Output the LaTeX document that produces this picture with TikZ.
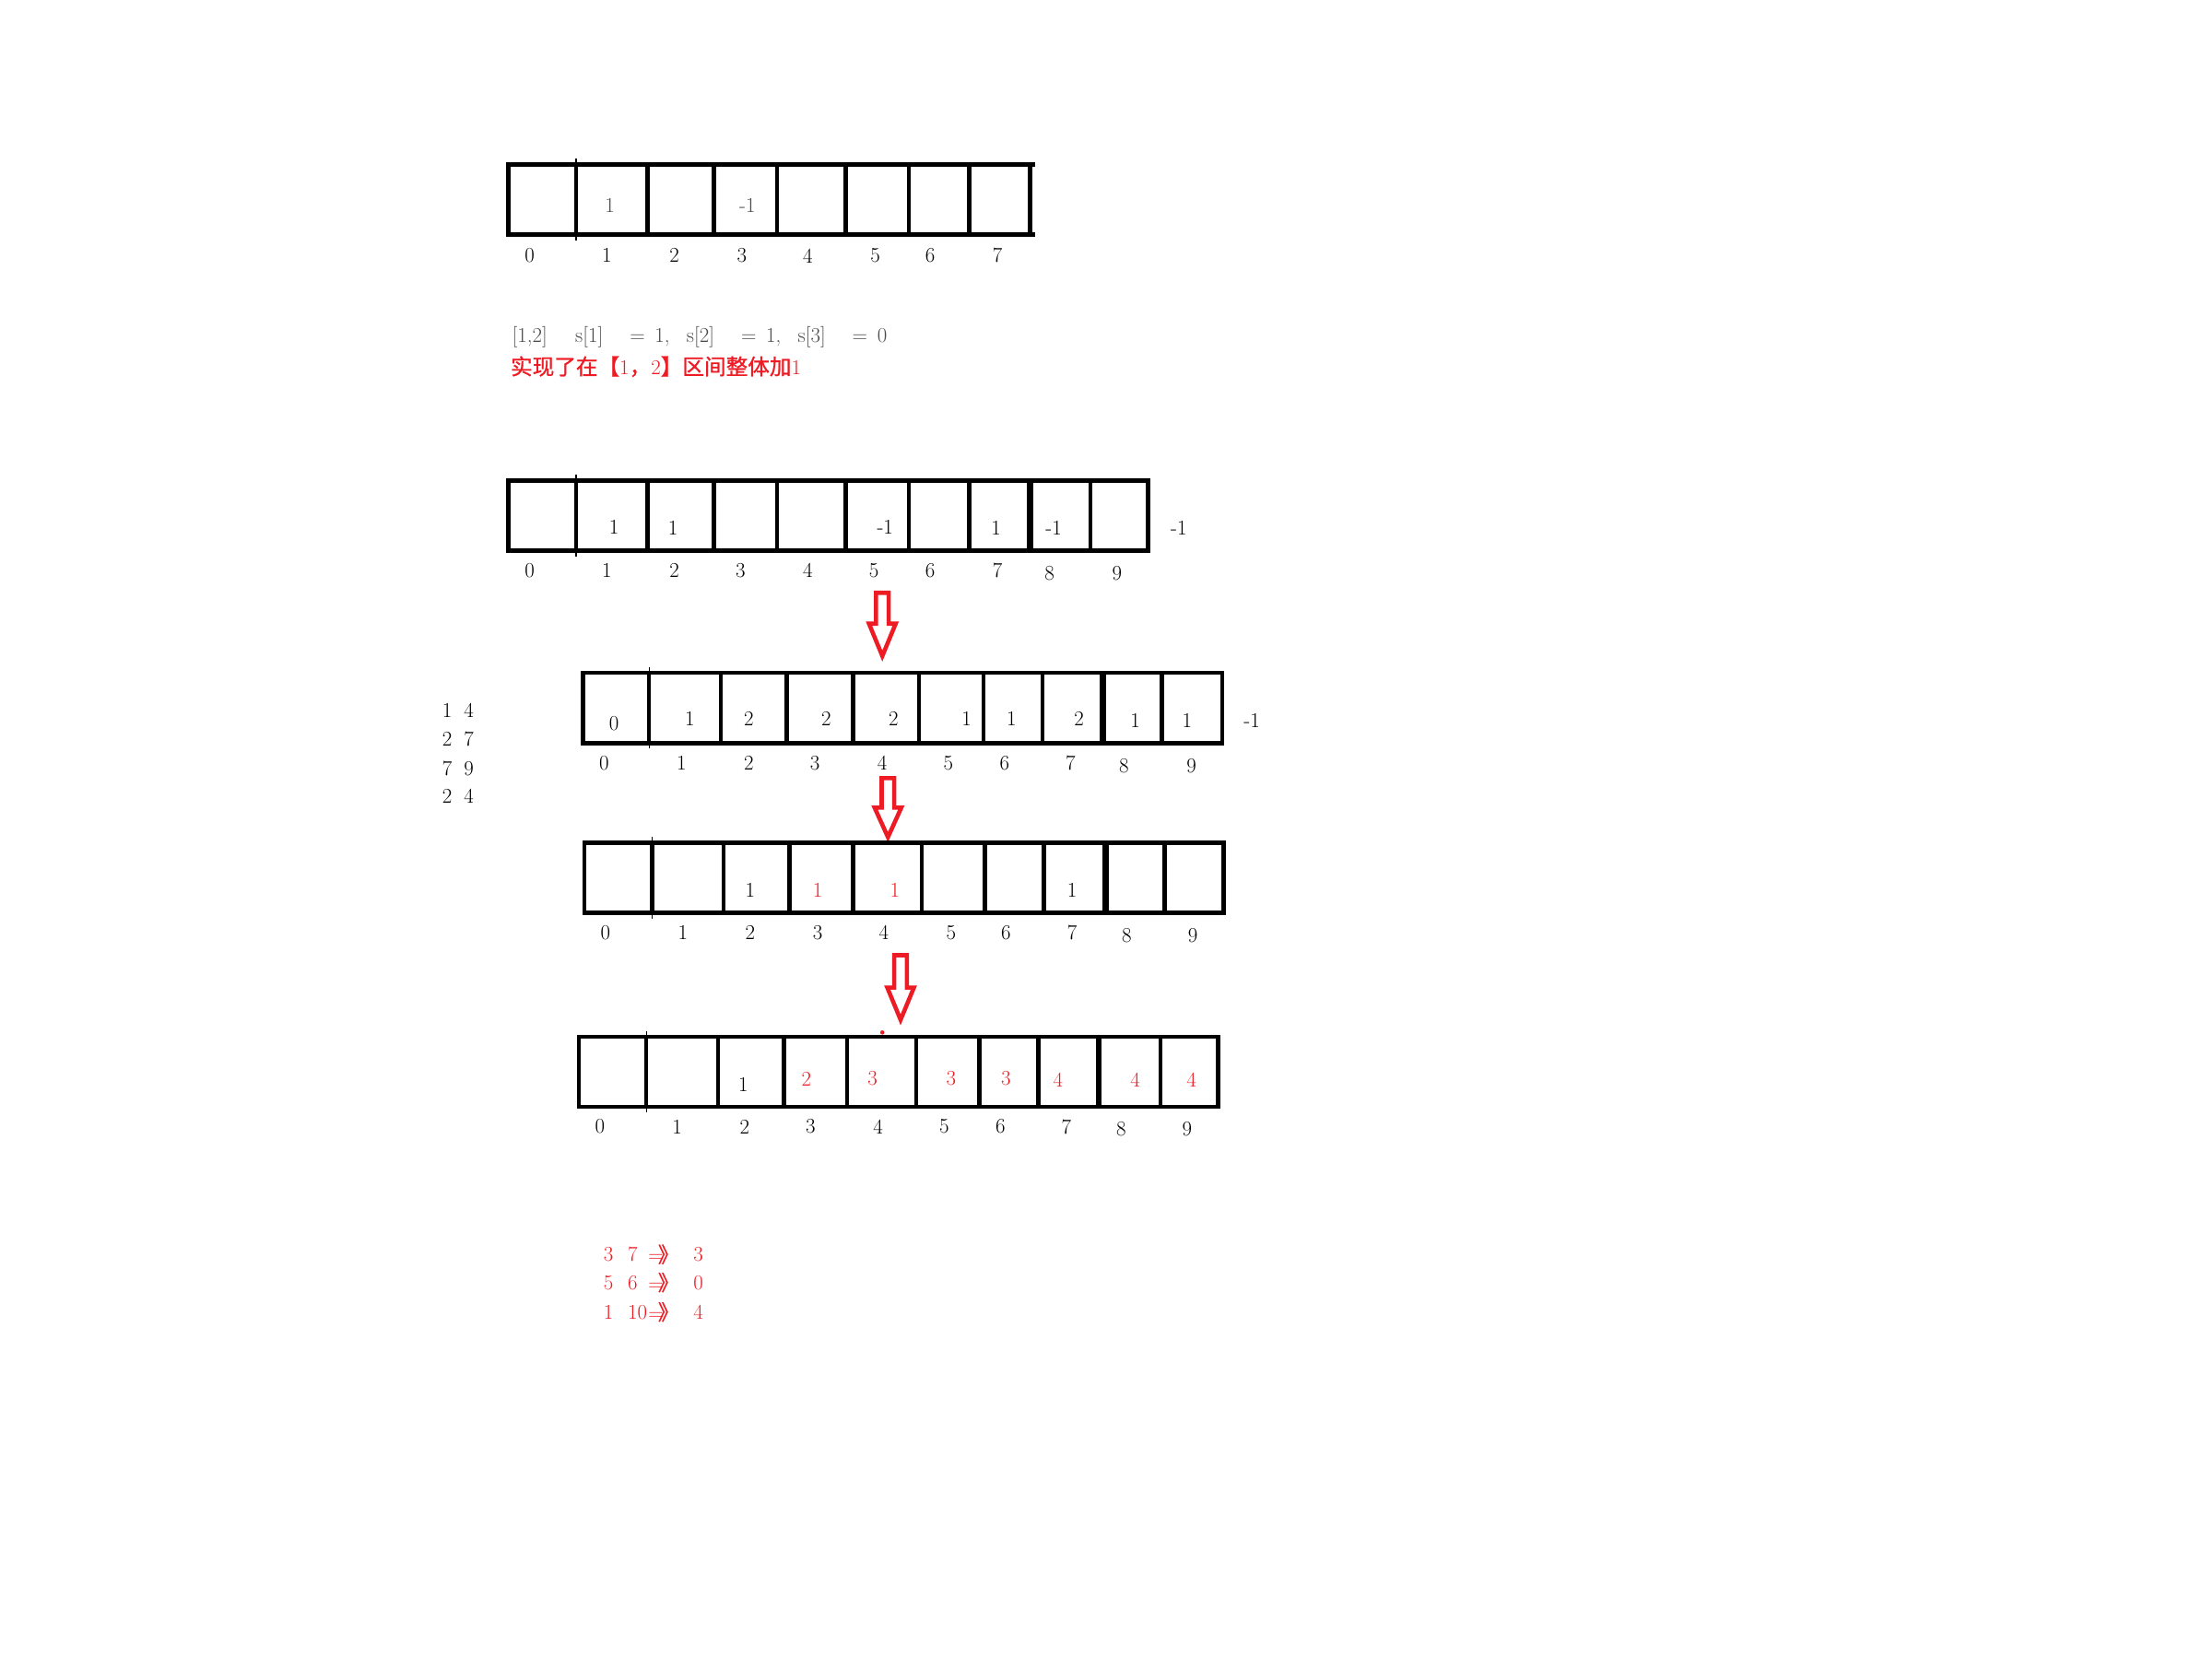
\documentclass[tikz,border=0pt]{standalone}
\usepackage{fontspec}
\usepackage{tikz}
\newfontfamily\cjk[FakeBold=1]{Noto Sans CJK SC}
\newcommand\cn[1]{{\cjk\fontsize{15.5}{18}\selectfont #1}}
\definecolor{paintred}{RGB}{237,28,36}
\definecolor{txtgray}{RGB}{75,75,75}

\begin{document}
\begin{tikzpicture}[x = 1pt, y = -1pt, line width = 3pt,
    every node/.style = {inner sep = 0pt, font = \fontsize{15}{18}\selectfont},
    sepline/.style = {line width = .8pt},
    thickline/.style = {line width = 4.5pt},
    redarrow/.style = {draw = paintred, line width = 3pt, line join = miter},
    hl/.style = {text = paintred}]
  \useasboundingbox (0,0) rectangle (1568,1196);

  % first array
  \draw (737,117) -- (362,117) -- (362,167) -- (737,167);
  \foreach \x in {410,461,508,553,602,647,690,733}
    \draw (\x,117) -- (\x,167);
  \draw[sepline] (410,113) -- (410,171);
  \node[text = txtgray] (a1) at (434,146) {1};
  \node[text = txtgray] (a3) at (532,146) {-1};
  \foreach \x/\t in {377/0,432/1,480/2,528/3,575/4,623/5,662/6,710/7}
    \node (la\t) at (\x,182) {\t};

  \node[anchor = west, text = txtgray] (sums) at (363,240)
    {[1,2]\hspace{20pt}s[1]\hspace{19pt}=\hspace{7pt}1,\hspace{12pt}s[2]\hspace{19pt}=\hspace{7pt}1,\hspace{12pt}s[3]\hspace{19pt}=\hspace{7pt}0};
  \node[anchor = west, hl] (note) at (362,261)
    {\cn{实现了在【}1\cn{，}2\cn{】区间整体加}1};

  % second array
  \draw (362,342) rectangle (817,392);
  \foreach \x in {410,461,508,553,602,647,690,776}
    \draw (\x,342) -- (\x,392);
  \draw[thickline] (733,342) -- (733,392);
  \draw[sepline] (410,338) -- (410,396);
  \node (b1) at (437,375) {1};
  \node (b2) at (479,376) {1};
  \node (b5) at (630,375) {-1};
  \node (b7) at (709,376) {1};
  \node (b8) at (750,376) {-1};
  \node (b10) at (839,376) {-1};
  \foreach \x/\y/\t in {377/406/0,432/406/1,480/406/2,527/406/3,575/406/4,
                        622/406/5,662/406/6,710/406/7,747/408/8,795/408/9}
    \node (lb\t) at (\x,\y) {\t};

  % arrows
  \foreach \x/\t/\n/\b in {628/422/444/467, 632/554/575/596, 641/680/703/726}
    \draw[redarrow] ({\x-4.5},\t) -- ({\x+4.5},\t) -- ({\x+4.5},\n) -- ({\x+9.5},\n)
      -- (\x,\b) -- ({\x-9.5},\n) -- ({\x-4.5},\n) -- cycle;
  \fill[paintred] (628,735) circle (1.5);

  % third array
  \draw (415,479) rectangle (870,529);
  \foreach \x in {462,513,560,607,654,700,742,827}
    \draw (\x,479) -- (\x,529);
  \draw[thickline] (785,479) -- (785,529);
  \draw[sepline] (462,475) -- (462,533);
  \foreach \x/\y/\t [count = \i] in {437/515/0,491/512/1,533/512/2,588/512/2,636/512/2,
                                     688/512/1,720/512/1,768/512/2,808/513/1,845/513/1}
    \node (c\i) at (\x,\y) {\t};
  \node (c11) at (891,513) {-1};
  \foreach \x/\y/\t in {430/543/0,485/543/1,533/543/2,580/543/3,628/543/4,
                        675/543/5,715/543/6,762/543/7,800/545/8,848/545/9}
    \node (lc\t) at (\x,\y) {\t};

  \foreach \s/\y [count = \i] in {1\hspace{8.5pt}4/506, 2\hspace{8.5pt}7/526,
                                  7\hspace{8.5pt}9/547, 2\hspace{8.5pt}4/567}
    \node (q\i) at (326,\y) {\s};

  % fourth array
  \draw (416,600) rectangle (871,650);
  \foreach \x in {464,515,562,607,656,701,743,829}
    \draw (\x,600) -- (\x,650);
  \draw[thickline] (787,600) -- (787,650);
  \draw[sepline] (464,596) -- (464,654);
  \node (d2) at (534,634) {1};
  \node[hl] (d3) at (582,634) {1};
  \node[hl] (d4) at (637,634) {1};
  \node (d7) at (763,634) {1};
  \foreach \x/\y/\t in {431/664/0,486/664/1,534/664/2,582/664/3,629/664/4,
                        677/664/5,716/664/6,763/664/7,802/666/8,849/666/9}
    \node (ld\t) at (\x,\y) {\t};

  % fifth array
  \draw (412,738) rectangle (867,788);
  \foreach \x in {460,511,558,603,652,697,739,826}
    \draw (\x,738) -- (\x,788);
  \draw[thickline] (782,738) -- (782,788);
  \draw[sepline] (460,734) -- (460,792);
  \node (e2) at (529,772) {1};
  \foreach \x/\y/\t [count = \i] in {574/768/2,621/768/3,677/768/3,716/768/3,
                                     753/769/4,808/769/4,848/769/4}
    \node[hl] (e\i) at (\x,\y) {\t};
  \foreach \x/\y/\t in {427/802/0,482/802/1,530/802/2,577/802/3,625/802/4,
                        672/802/5,712/802/6,759/802/7,798/804/8,845/804/9}
    \node (le\t) at (\x,\y) {\t};

  % queries
  \foreach \a/\b/\c/\y [count = \i] in {3/7/3/893, 5/6/0/913, 1/10/4/934} {
    \node[hl] (ra\i) at (433,\y) {\a};
    \node[hl, anchor = west] (rb\i) at (445.3,\y) {\b};
    \node[hl, anchor = west] (rc\i) at (460,\y) {=\kern-4pt{\cjk 》}};
    \node[hl] (rd\i) at (497,\y) {\c};
  }
\end{tikzpicture}
\end{document}
